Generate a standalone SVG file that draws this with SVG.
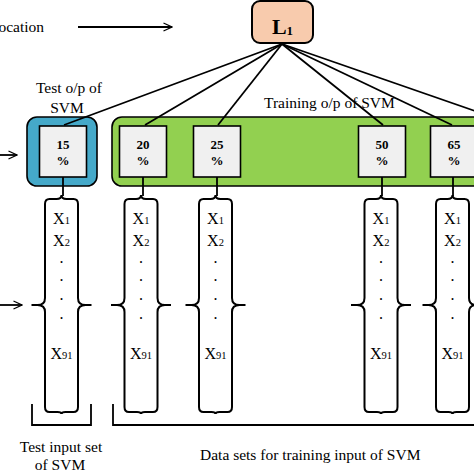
<svg xmlns="http://www.w3.org/2000/svg" width="474" height="474" viewBox="0 0 474 474">
<style>
.t{font-family:"Liberation Serif","Times New Roman",serif;fill:#000}
.lbl{font-size:15.5px}
.pc{font-size:13px;font-weight:bold;text-anchor:middle}
.x{font-size:16px;text-anchor:middle}
.ln{stroke:#000;stroke-width:1.8;fill:none}
.pbox{fill:#f0f0f0;stroke:#000;stroke-width:1.6}
.col{stroke:#000;stroke-width:2;fill:none}
</style>
<defs>
<marker id="ah" viewBox="0 0 10 10" refX="9.5" refY="5" markerWidth="10" markerHeight="10" markerUnits="userSpaceOnUse" orient="auto">
<path d="M1,1 L9.5,5 L1,9" fill="none" stroke="#000" stroke-width="1.2"/>
</marker>
<path id="colshape" d="M0,-4 Q0,0 -5,0 L-12,0 Q-16.5,0 -16.5,5 L-16.5,99 Q-16.5,106 -24,106 L-30,106 M-24,106 Q-16.5,106 -16.5,113 L-16.5,208 Q-16.5,213 -12,213 L-4,213 Q0,213 0,215 M0,-4 Q0,0 5,0 L12,0 Q16.5,0 16.5,5 L16.5,99 Q16.5,106 24,106 L30,106 M24,106 Q16.5,106 16.5,113 L16.5,208 Q16.5,213 12,213 L4,213 Q0,213 0,215"/>
</defs>
<rect width="474" height="474" fill="#fff"/>

<!-- left label (cut off at the edge, as in the picture) -->
<text class="t lbl" x="-11" y="32">Location</text>
<g id="arrows">
<line class="ln" x1="78" y1="27" x2="172" y2="27" stroke-width="1.3" marker-end="url(#ah)"/>
<line class="ln" x1="-5" y1="155" x2="17" y2="155" stroke-width="1.3" marker-end="url(#ah)"/>
<line class="ln" x1="-5" y1="305" x2="22" y2="305" stroke-width="1.3" marker-end="url(#ah)"/>
</g>

<!-- group boxes -->
<g id="test-group">
<rect x="27" y="117" width="70" height="69" rx="10" fill="#45a9c9" stroke="#000" stroke-width="1.6"/>
<text class="t lbl" x="69" y="93" text-anchor="middle">Test o/p of</text>
<text class="t lbl" x="67" y="113" text-anchor="middle">SVM</text>
</g>
<g id="train-group">
<rect x="112" y="117" width="400" height="69" rx="10" fill="#92d050" stroke="#000" stroke-width="1.6"/>
</g>

<!-- connectors -->
<g id="connectors" class="ln">
<line x1="282" y1="44" x2="64" y2="125"/>
<line x1="282" y1="44" x2="145" y2="125"/>
<line x1="282" y1="44" x2="218" y2="125"/>
<line x1="282" y1="44" x2="383" y2="125"/>
<line x1="282" y1="44" x2="452" y2="125"/>
<line x1="282" y1="44" x2="530" y2="130"/>
<line x1="63" y1="177" x2="63" y2="196"/>
<line x1="143" y1="177" x2="143" y2="196"/>
<line x1="217" y1="177" x2="217" y2="196"/>
<line x1="382" y1="177" x2="382" y2="196"/>
<line x1="453" y1="177" x2="453" y2="196"/>
</g>

<text class="t lbl" x="264" y="108">Training o/p of SVM</text>

<!-- L1 -->
<g id="L1">
<rect x="252" y="1" width="61" height="42" rx="8" fill="#f8cbad" stroke="#000" stroke-width="2"/>
<text class="t" x="282.5" y="34" font-size="22" font-weight="bold" text-anchor="middle">L<tspan font-size="13" dy="1">1</tspan></text>
</g>

<!-- percentage boxes -->
<g id="p15"><rect class="pbox" x="39.5" y="126" width="47" height="51"/><text class="t pc" x="63" y="149">15</text><text class="t pc" x="63" y="165" font-weight="normal">%</text></g>
<g id="p20"><rect class="pbox" x="119.5" y="126" width="47" height="51"/><text class="t pc" x="143" y="149">20</text><text class="t pc" x="143" y="165" font-weight="normal">%</text></g>
<g id="p25"><rect class="pbox" x="193.5" y="126" width="47" height="51"/><text class="t pc" x="217" y="149">25</text><text class="t pc" x="217" y="165" font-weight="normal">%</text></g>
<g id="p50"><rect class="pbox" x="358.5" y="126" width="47" height="51"/><text class="t pc" x="382" y="149">50</text><text class="t pc" x="382" y="165" font-weight="normal">%</text></g>
<g id="p65"><rect class="pbox" x="430.5" y="126" width="47" height="51"/><text class="t pc" x="454" y="149">65</text><text class="t pc" x="454" y="165" font-weight="normal">%</text></g>

<!-- data columns -->
<g id="col1">
<use href="#colshape" class="col" transform="translate(61.5,199)"/>
<text class="t x" x="61.5" y="224">X<tspan font-size="10.5">1</tspan></text>
<text class="t x" x="61.5" y="246">X<tspan font-size="10.5">2</tspan></text>
<text class="t x" x="61.5" y="263">.</text><text class="t x" x="61.5" y="281">.</text><text class="t x" x="61.5" y="300">.</text><text class="t x" x="61.5" y="319">.</text>
<text class="t x" x="61.5" y="359">X<tspan font-size="10.5">91</tspan></text>
</g>
<g id="col2">
<use href="#colshape" class="col" transform="translate(141,199)"/>
<text class="t x" x="141" y="224">X<tspan font-size="10.5">1</tspan></text>
<text class="t x" x="141" y="246">X<tspan font-size="10.5">2</tspan></text>
<text class="t x" x="141" y="263">.</text><text class="t x" x="141" y="281">.</text><text class="t x" x="141" y="300">.</text><text class="t x" x="141" y="319">.</text>
<text class="t x" x="141" y="359">X<tspan font-size="10.5">91</tspan></text>
</g>
<g id="col3">
<use href="#colshape" class="col" transform="translate(215.5,199)"/>
<text class="t x" x="215.5" y="224">X<tspan font-size="10.5">1</tspan></text>
<text class="t x" x="215.5" y="246">X<tspan font-size="10.5">2</tspan></text>
<text class="t x" x="215.5" y="263">.</text><text class="t x" x="215.5" y="281">.</text><text class="t x" x="215.5" y="300">.</text><text class="t x" x="215.5" y="319">.</text>
<text class="t x" x="215.5" y="359">X<tspan font-size="10.5">91</tspan></text>
</g>
<g id="col4">
<use href="#colshape" class="col" transform="translate(381,199)"/>
<text class="t x" x="381" y="224">X<tspan font-size="10.5">1</tspan></text>
<text class="t x" x="381" y="246">X<tspan font-size="10.5">2</tspan></text>
<text class="t x" x="381" y="263">.</text><text class="t x" x="381" y="281">.</text><text class="t x" x="381" y="300">.</text><text class="t x" x="381" y="319">.</text>
<text class="t x" x="381" y="359">X<tspan font-size="10.5">91</tspan></text>
</g>
<g id="col5">
<use href="#colshape" class="col" transform="translate(452.5,199)"/>
<text class="t x" x="452.5" y="224">X<tspan font-size="10.5">1</tspan></text>
<text class="t x" x="452.5" y="246">X<tspan font-size="10.5">2</tspan></text>
<text class="t x" x="452.5" y="263">.</text><text class="t x" x="452.5" y="281">.</text><text class="t x" x="452.5" y="300">.</text><text class="t x" x="452.5" y="319">.</text>
<text class="t x" x="452.5" y="359">X<tspan font-size="10.5">91</tspan></text>
</g>

<!-- bottom brackets -->
<g id="test-input">
<path class="ln" d="M32,404 L32,425 L91,425 L91,404"/>
<text class="t lbl" x="61" y="452" text-anchor="middle">Test input set</text>
<text class="t lbl" x="60" y="470" text-anchor="middle">of SVM</text>
</g>
<g id="train-input">
<path class="ln" d="M113,404 L113,425 L480,425"/>
<text class="t lbl" x="200" y="460">Data sets for training input of SVM</text>
</g>
</svg>
